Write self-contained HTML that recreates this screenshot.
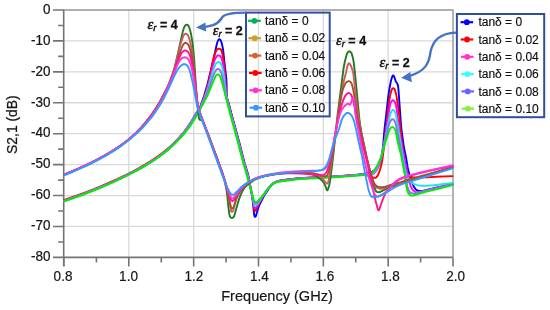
<!DOCTYPE html><html><head><meta charset="utf-8"><style>html,body{margin:0;padding:0;background:#fff;}svg{display:block;}text{font-family:"Liberation Sans",sans-serif;}</style></head><body>
<svg width="550" height="310" viewBox="0 0 550 310">
<rect x="0" y="0" width="550" height="310" fill="#fff"/>
<path d="M64.0,40.92H453.0M64.0,71.85H453.0M64.0,102.77H453.0M64.0,133.70H453.0M64.0,164.62H453.0M64.0,195.55H453.0M64.0,226.47H453.0M128.83,10.0V257.4M193.67,10.0V257.4M258.50,10.0V257.4M323.33,10.0V257.4M388.17,10.0V257.4" stroke="#d9d9d9" stroke-width="1.3" fill="none"/>
<path d="M64.0,10.0H453.0V257.4" stroke="#959595" stroke-width="1.4" fill="none"/>
<path d="M63.7,10.0V266.6M53.0,257.4H453.0M53.0,10.00H64.0M53.0,40.92H64.0M53.0,71.85H64.0M53.0,102.77H64.0M53.0,133.70H64.0M53.0,164.62H64.0M53.0,195.55H64.0M53.0,226.47H64.0M53.0,257.40H64.0M58.2,25.46H64.0M58.2,56.39H64.0M58.2,87.31H64.0M58.2,118.24H64.0M58.2,149.16H64.0M58.2,180.09H64.0M58.2,211.01H64.0M58.2,241.94H64.0M64.00,257.4V266.6M128.83,257.4V266.6M193.67,257.4V266.6M258.50,257.4V266.6M323.33,257.4V266.6M388.17,257.4V266.6M453.00,257.4V266.6M96.42,257.4V262.4M161.25,257.4V262.4M226.08,257.4V262.4M290.92,257.4V262.4M355.75,257.4V262.4M420.58,257.4V262.4" stroke="#747474" stroke-width="1.6" fill="none"/>
<text transform="translate(50.6,13.7) scale(0.97,1)" font-size="13.9" text-anchor="end" fill="#161616" stroke="#161616" stroke-width="0.25">0</text>
<text transform="translate(50.6,44.6) scale(0.97,1)" font-size="13.9" text-anchor="end" fill="#161616" stroke="#161616" stroke-width="0.25">-10</text>
<text transform="translate(50.6,75.5) scale(0.97,1)" font-size="13.9" text-anchor="end" fill="#161616" stroke="#161616" stroke-width="0.25">-20</text>
<text transform="translate(50.6,106.5) scale(0.97,1)" font-size="13.9" text-anchor="end" fill="#161616" stroke="#161616" stroke-width="0.25">-30</text>
<text transform="translate(50.6,137.4) scale(0.97,1)" font-size="13.9" text-anchor="end" fill="#161616" stroke="#161616" stroke-width="0.25">-40</text>
<text transform="translate(50.6,168.3) scale(0.97,1)" font-size="13.9" text-anchor="end" fill="#161616" stroke="#161616" stroke-width="0.25">-50</text>
<text transform="translate(50.6,199.2) scale(0.97,1)" font-size="13.9" text-anchor="end" fill="#161616" stroke="#161616" stroke-width="0.25">-60</text>
<text transform="translate(50.6,230.2) scale(0.97,1)" font-size="13.9" text-anchor="end" fill="#161616" stroke="#161616" stroke-width="0.25">-70</text>
<text transform="translate(50.6,261.1) scale(0.97,1)" font-size="13.9" text-anchor="end" fill="#161616" stroke="#161616" stroke-width="0.25">-80</text>
<text transform="translate(63.0,281.4) scale(0.96,1)" font-size="14.1" text-anchor="middle" fill="#161616" stroke="#161616" stroke-width="0.2">0.8</text>
<text transform="translate(128.5,281.4) scale(0.96,1)" font-size="14.1" text-anchor="middle" fill="#161616" stroke="#161616" stroke-width="0.2">1.0</text>
<text transform="translate(193.9,281.4) scale(0.96,1)" font-size="14.1" text-anchor="middle" fill="#161616" stroke="#161616" stroke-width="0.2">1.2</text>
<text transform="translate(259.4,281.4) scale(0.96,1)" font-size="14.1" text-anchor="middle" fill="#161616" stroke="#161616" stroke-width="0.2">1.4</text>
<text transform="translate(324.8,281.4) scale(0.96,1)" font-size="14.1" text-anchor="middle" fill="#161616" stroke="#161616" stroke-width="0.2">1.6</text>
<text transform="translate(390.3,281.4) scale(0.96,1)" font-size="14.1" text-anchor="middle" fill="#161616" stroke="#161616" stroke-width="0.2">1.8</text>
<text transform="translate(455.7,281.4) scale(0.96,1)" font-size="14.1" text-anchor="middle" fill="#161616" stroke="#161616" stroke-width="0.2">2.0</text>
<text x="277" y="301.3" font-size="14.55" text-anchor="middle" fill="#161616" stroke="#161616" stroke-width="0.2">Frequency (GHz)</text>
<text transform="translate(16.9,124.6) rotate(-90)" font-size="13.9" text-anchor="middle" fill="#161616" stroke="#161616" stroke-width="0.25">S2,1 (dB)</text>
<path d="M64.3,200.9 74.4,197.4 84.2,193.8 93.5,190.2 102.2,186.6 110.3,183.2 117.9,179.7 127.6,175.0 134.4,171.5 141.1,167.8 147.3,164.2 153.2,160.4 158.6,156.7 163.1,153.3 167.0,150.2 171.4,146.2 175.7,141.9 179.0,138.2 182.2,134.6 185.1,130.8 188.0,126.7 191.5,121.4 196.0,113.6 198.8,109.2 200.5,105.8 202.1,101.7 204.2,95.5 207.4,84.5 213.3,60.8 216.1,47.3 217.2,42.7 217.7,41.3 218.3,40.1 218.7,39.5 219.3,39.3 219.9,39.4 220.4,40.0 221.0,41.0 221.4,42.1 222.5,46.4 223.3,51.5 224.4,61.8 226.3,78.3 226.6,83.9 226.7,94.7 227.2,98.7 227.5,100.0 228.7,103.2 231.5,114.1 239.6,143.6 244.6,163.3 247.4,172.1 248.3,175.4 251.6,193.1 252.9,202.6 254.2,215.1 254.5,216.2 254.9,216.8 255.2,216.9 255.5,216.8 255.9,216.1 257.6,210.0 258.6,207.0 259.5,204.8 263.8,196.4 265.4,193.6 268.8,188.6 271.1,185.6 273.9,183.1 275.1,182.3 276.1,181.8 279.0,181.0 283.5,180.1 299.2,178.3 306.2,177.9 333.4,176.6 353.1,175.2 357.9,174.8 367.4,173.1 370.5,172.4 372.2,171.7 373.8,170.9 375.1,170.0 376.1,169.1 377.9,166.9 379.2,164.3 380.8,160.2 381.8,156.3 383.1,145.6 384.6,128.0 385.8,118.3 388.4,95.1 389.5,88.2 391.0,80.5 392.3,76.5 392.7,75.7 393.2,75.4 393.7,75.7 394.2,76.6 395.6,81.0 396.2,82.0 397.5,84.0 398.1,86.1 398.5,90.1 401.0,125.0 401.7,131.3 403.6,145.2 404.3,149.1 406.0,157.2 407.7,167.6 408.5,170.9 409.5,174.6 411.7,181.6 412.8,184.5 413.9,186.8 415.4,188.9 416.4,189.9 417.2,190.4 418.1,190.8 419.1,190.9 421.7,190.9 424.7,190.5 429.9,189.1 438.3,187.2 452.6,184.2" stroke="#0000ff" stroke-width="1.9" fill="none" stroke-linejoin="round" stroke-linecap="round"/>
<path d="M64.3,200.0 83.6,193.1 92.6,189.7 101.3,186.1 109.2,182.7 116.6,179.4 126.7,174.5 132.6,171.5 139.0,168.1 145.0,164.6 150.8,161.1 156.1,157.5 161.3,153.8 165.8,150.3 170.0,146.7 174.1,142.9 177.5,139.4 180.5,136.0 183.5,132.5 186.3,128.9 188.8,125.3 191.3,121.6 195.9,113.6 199.0,109.7 200.4,107.3 201.7,104.2 204.3,97.0 205.7,92.9 206.9,88.6 209.0,79.9 212.6,61.8 214.3,55.3 215.3,52.6 216.6,50.1 217.0,49.5 217.6,49.0 218.9,48.6 219.6,48.7 220.3,49.0 220.8,49.5 221.3,50.4 222.4,53.8 223.2,58.1 224.0,63.5 224.8,71.8 225.5,80.6 226.3,93.4 226.9,97.7 228.3,102.7 231.4,114.7 238.8,141.9 244.2,162.9 247.9,175.3 252.2,195.5 253.7,204.1 254.4,209.9 254.5,210.6 254.8,211.0 255.2,210.9 255.7,210.2 260.2,201.6 263.9,195.0 266.2,191.5 268.8,188.0 271.0,185.4 273.3,183.2 275.4,181.9 277.6,181.1 280.5,180.4 284.9,179.7 299.6,178.1 306.6,177.7 333.5,176.4 347.7,175.4 356.7,174.6 364.6,174.7 366.0,175.0 367.7,175.5 371.5,177.4 372.4,177.7 375.2,177.8 375.9,177.6 376.5,177.2 377.0,176.7 377.7,175.6 379.0,172.7 381.0,166.3 382.1,161.4 383.0,155.4 385.1,135.6 386.7,123.1 388.1,109.1 389.3,100.0 390.1,95.5 391.1,91.4 392.0,89.2 392.5,88.6 393.0,88.3 393.5,88.3 394.1,88.6 394.6,89.2 395.0,90.1 396.1,94.2 396.9,98.7 398.6,110.8 401.8,140.4 404.5,160.2 405.4,165.7 406.2,169.8 407.2,173.3 408.0,175.1 408.5,175.7 409.3,176.4 410.7,177.0 412.9,177.3 417.5,177.6 426.3,177.4 436.2,176.8 452.5,176.1" stroke="#ff0000" stroke-width="1.9" fill="none" stroke-linejoin="round" stroke-linecap="round"/>
<path d="M64.3,200.9 83.0,194.2 100.2,187.5 115.2,180.9 130.7,173.4 136.9,170.2 142.8,166.8 148.4,163.4 153.8,160.0 158.9,156.4 163.6,153.0 167.0,150.2 171.1,146.4 174.8,142.8 178.4,139.0 181.8,135.1 185.0,131.0 187.9,126.9 190.7,122.7 193.0,119.0 195.9,113.7 199.0,109.8 200.1,107.9 201.4,105.0 204.3,97.8 206.8,90.6 209.4,80.9 213.0,65.4 214.4,60.8 215.3,58.5 216.3,56.9 217.4,55.7 217.9,55.5 218.5,55.4 219.0,55.4 219.7,55.7 220.3,56.2 220.8,56.8 221.6,58.4 222.5,61.5 223.3,66.0 224.0,71.1 224.6,76.7 225.4,86.5 225.8,90.3 226.7,96.0 228.1,102.6 230.9,113.7 239.2,144.2 243.9,162.6 247.8,175.4 252.2,195.5 253.6,203.2 254.3,207.3 254.5,208.0 254.8,208.5 255.2,208.4 255.6,208.2 257.0,206.3 260.6,200.0 264.0,194.6 266.9,190.3 269.7,186.6 271.3,184.9 273.2,183.4 275.1,182.3 277.1,181.5 280.2,180.8 284.4,180.1 298.9,178.4 305.7,178.0 336.2,176.5 354.8,175.2 363.7,174.3 370.3,174.3 372.7,173.9 374.1,173.1 375.0,172.1 376.3,170.6 378.1,167.5 379.9,163.0 381.6,157.5 382.7,152.4 384.1,144.3 388.1,116.8 389.8,106.1 390.3,104.0 391.1,102.0 392.0,100.7 392.7,100.2 393.5,100.4 394.4,101.4 395.5,103.3 396.0,105.0 396.7,109.5 398.3,122.6 399.6,132.3 401.1,141.6 406.9,170.9 408.9,179.8 410.5,185.8 411.4,187.8 412.3,189.4 413.6,190.8 415.3,191.9 416.8,192.3 419.0,192.2 438.8,187.2 452.5,184.1" stroke="#ff00ff" stroke-width="1.9" fill="none" stroke-linejoin="round" stroke-linecap="round"/>
<path d="M64.3,200.9 82.5,194.4 99.0,187.9 113.9,181.5 128.7,174.4 134.7,171.3 140.5,168.1 146.1,164.9 151.1,161.7 156.3,158.3 161.3,154.7 165.3,151.6 168.8,148.6 172.8,144.8 176.8,140.8 180.5,136.6 183.9,132.4 187.1,128.1 190.1,123.6 192.8,119.3 195.9,113.7 198.9,110.0 200.0,108.4 201.3,105.7 204.2,98.9 206.7,92.5 208.1,88.0 213.0,70.8 214.8,65.9 215.5,64.3 216.3,63.2 217.4,62.3 218.5,62.0 219.0,62.0 219.7,62.4 220.8,63.5 221.5,65.1 222.4,68.1 223.3,72.5 224.1,77.2 225.4,90.9 226.1,94.7 226.8,98.2 230.1,111.4 238.3,141.3 243.6,162.2 247.6,175.4 251.8,193.7 254.1,204.5 254.4,205.4 254.8,205.8 255.3,205.8 255.9,205.5 256.7,204.7 257.7,203.7 265.7,191.8 267.9,188.9 270.5,185.8 271.9,184.4 273.9,183.1 275.7,182.2 277.6,181.5 280.5,180.9 284.6,180.2 298.7,178.6 306.3,178.1 331.7,176.9 349.8,175.7 357.6,175.0 363.8,174.4 369.6,174.2 371.3,173.8 372.9,173.0 373.8,172.2 374.8,171.2 375.9,169.6 376.9,168.0 379.0,163.5 380.8,158.6 381.9,154.6 383.1,149.1 387.6,126.1 389.8,116.0 390.5,113.5 391.4,111.5 392.1,110.3 392.8,109.9 393.6,110.1 394.6,111.0 395.2,112.5 395.9,114.6 396.7,119.1 403.9,162.9 405.1,169.6 406.0,173.1 407.1,176.1 408.2,178.4 409.7,180.6 410.7,181.8 411.9,182.8 413.1,183.7 414.1,184.2 417.2,185.1 419.5,185.5 421.3,185.7 425.5,185.8 433.7,185.2 452.7,183.0" stroke="#1ee6e6" stroke-width="1.9" fill="none" stroke-linejoin="round" stroke-linecap="round"/>
<path d="M64.3,200.9 82.1,194.6 98.3,188.2 112.8,182.0 127.1,175.2 138.6,169.2 143.8,166.2 149.0,163.1 153.8,160.0 158.6,156.7 162.9,153.5 166.7,150.4 171.1,146.4 175.2,142.4 179.2,138.1 182.9,133.7 186.4,129.0 189.7,124.3 192.7,119.5 195.9,113.8 198.9,110.3 199.8,109.0 201.6,105.6 206.7,94.1 213.2,76.0 214.5,72.9 215.4,71.1 216.2,70.0 217.1,69.2 217.9,68.9 218.5,69.0 219.1,69.3 219.7,69.8 220.2,70.5 221.2,72.8 222.1,75.7 223.4,81.8 224.7,91.3 225.5,95.4 227.6,102.3 230.6,113.9 237.5,139.4 243.7,163.0 247.3,175.1 249.2,183.0 253.9,201.8 254.3,202.9 254.7,203.4 255.4,203.5 256.2,203.3 257.2,202.6 258.2,201.7 261.3,197.7 266.3,190.7 269.4,186.8 270.9,185.2 272.5,184.0 274.4,182.8 276.0,182.1 278.1,181.5 281.0,180.9 285.0,180.2 298.7,178.7 306.3,178.2 331.9,177.0 351.8,175.6 358.0,175.1 364.3,174.4 368.9,174.0 370.1,173.8 371.3,173.2 372.5,172.4 373.5,171.4 375.9,168.2 377.8,164.9 379.6,160.7 380.8,157.5 381.6,154.6 386.5,134.0 388.8,125.3 389.7,122.8 390.5,121.0 391.4,119.7 391.8,119.4 392.3,119.2 392.8,119.2 393.4,119.5 394.5,120.7 395.2,122.3 396.0,124.8 401.5,153.3 405.3,176.5 406.2,181.7 407.1,185.5 408.1,188.8 409.0,190.8 410.0,192.3 410.9,193.0 411.8,193.3 413.2,193.5 414.6,193.3 438.4,187.8 452.6,184.3" stroke="#8a70f0" stroke-width="1.9" fill="none" stroke-linejoin="round" stroke-linecap="round"/>
<path d="M64.3,201.3 82.1,195.0 98.5,188.6 113.2,182.2 127.4,175.5 139.0,169.4 144.2,166.4 149.3,163.3 154.2,160.2 158.8,157.0 163.1,153.7 167.3,150.4 171.0,147.3 174.5,144.0 177.9,140.6 181.1,137.3 184.1,133.8 187.0,130.2 189.7,126.6 192.3,122.8 195.3,118.0 198.3,112.8 207.3,95.9 213.1,81.8 215.5,76.3 216.0,75.5 216.6,74.9 217.2,74.5 217.7,74.4 218.3,74.5 218.8,74.7 219.2,75.0 219.7,75.6 220.4,77.1 221.4,80.1 225.5,95.4 230.2,114.2 237.6,141.0 243.3,163.3 246.7,174.4 249.1,183.6 253.7,199.6 254.3,201.0 254.9,201.6 255.8,201.8 256.8,201.6 257.5,201.3 258.2,200.7 261.7,196.8 267.2,190.0 270.0,186.8 271.6,185.3 273.4,184.0 274.9,183.1 276.6,182.4 278.7,181.8 281.8,181.2 285.6,180.7 299.5,179.1 338.0,177.1 368.0,174.9 369.3,174.7 370.2,174.3 371.2,173.7 372.4,172.6 374.6,170.0 376.9,166.5 379.2,162.0 380.3,159.5 381.2,156.8 383.8,147.6 387.7,135.0 389.0,131.2 389.7,129.5 390.4,128.4 391.4,127.4 392.2,127.0 392.8,127.1 393.3,127.3 394.4,128.4 395.2,129.9 395.9,132.0 397.6,141.5 400.8,154.1 401.6,157.8 402.9,164.9 404.5,172.9 406.2,185.2 406.7,188.1 407.3,190.5 407.8,192.0 408.6,193.6 409.5,194.7 410.3,195.2 411.2,195.5 412.4,195.6 413.3,195.5 425.6,191.9 440.0,188.4 452.7,185.1" stroke="#00ee00" stroke-width="1.9" fill="none" stroke-linejoin="round" stroke-linecap="round"/>
<path d="M64.3,174.6 78.4,168.7 85.1,165.7 91.5,162.6 97.5,159.5 103.3,156.4 108.8,153.2 114.1,149.9 118.8,146.8 123.2,143.7 127.2,140.7 130.4,138.0 134.6,134.3 138.3,130.6 142.0,126.7 145.4,122.7 148.9,118.2 152.4,113.5 155.4,109.0 158.2,104.6 161.2,99.4 165.3,91.4 167.2,87.7 169.1,83.3 172.5,74.3 174.7,67.2 176.8,58.5 182.2,34.1 183.1,30.4 184.0,27.7 184.8,26.1 185.6,25.1 186.1,24.8 186.6,24.6 187.4,24.9 188.3,25.6 188.9,26.7 189.6,28.5 190.3,31.0 191.0,33.9 192.4,42.2 193.3,50.4 194.2,59.9 196.0,88.1 196.8,98.8 197.9,110.0 199.0,118.3 199.3,119.0 199.7,119.6 200.1,119.8 201.3,120.1 202.1,120.6 202.9,121.7 203.8,123.5 208.9,136.1 218.4,161.8 222.7,173.7 224.7,181.2 226.4,189.4 227.2,195.0 228.6,208.7 229.3,214.2 230.0,216.5 230.4,217.2 230.9,217.7 231.8,217.9 232.7,217.8 233.4,217.2 234.1,216.2 234.7,214.3 238.1,202.2 239.8,197.1 240.9,194.3 242.0,191.9 243.2,189.8 244.4,188.0 245.7,186.5 247.2,185.1 253.8,180.3 255.3,179.4 257.0,178.6 261.5,177.0 266.9,175.7 273.2,174.6 279.2,173.7 285.9,173.1 290.5,172.9 301.7,172.9 306.3,173.2 309.5,173.5 312.6,174.4 315.2,175.5 318.0,177.3 321.5,180.0 323.0,181.6 324.1,183.2 325.5,186.3 326.8,190.0 327.2,190.3 327.4,190.3 327.7,190.0 328.4,188.2 329.2,185.3 330.0,181.4 330.6,177.2 332.9,158.6 336.0,129.3 337.8,113.0 343.6,68.2 344.9,61.3 346.6,54.9 347.1,53.6 347.7,52.6 348.5,51.7 349.1,51.4 349.8,51.4 350.4,51.8 351.2,52.6 351.7,53.7 352.9,57.7 353.7,62.4 354.9,72.4 359.3,118.4 360.3,126.3 361.2,132.2 367.9,162.9 370.9,176.0 373.5,184.8 375.3,189.7 376.1,191.2 376.9,191.8 377.8,192.1 379.0,192.2 380.1,192.0 383.7,190.2 387.3,188.5 390.6,187.2 394.6,185.8 400.7,183.9 407.3,181.5 411.9,180.1 435.0,173.0 452.5,167.8" stroke="#1e7b1e" stroke-width="1.9" fill="none" stroke-linejoin="round" stroke-linecap="round"/>
<path d="M64.3,174.6 77.9,169.0 90.4,163.2 101.9,157.2 107.3,154.1 112.4,151.0 121.3,145.1 125.9,141.7 129.1,139.2 133.1,135.7 136.8,132.2 140.3,128.6 143.6,124.9 146.8,121.1 150.3,116.5 153.8,111.6 156.7,107.2 161.3,99.3 165.6,91.1 167.6,87.0 170.8,79.5 173.1,72.9 175.6,64.0 179.8,46.7 181.9,39.6 183.1,36.6 183.8,35.2 184.7,34.2 185.2,33.9 185.7,33.8 186.6,34.0 187.3,34.6 187.9,35.4 188.6,36.8 189.4,39.1 190.0,41.2 191.5,48.2 192.5,54.9 193.3,61.5 196.7,97.5 197.7,104.7 199.1,110.7 200.7,116.1 204.3,125.4 207.6,133.5 210.3,140.4 221.2,170.1 223.7,177.3 225.3,182.4 226.5,187.5 227.8,193.4 230.4,207.9 231.1,211.0 231.3,211.5 231.6,211.9 232.0,211.9 232.4,211.7 232.9,211.2 233.2,210.5 235.9,200.5 236.7,198.0 237.5,195.9 239.3,192.4 241.4,189.5 243.4,187.3 245.6,185.2 247.4,183.6 249.4,182.3 252.0,180.8 254.8,179.3 258.0,178.0 261.0,177.0 266.4,175.7 273.5,174.4 279.3,173.6 286.3,173.0 290.4,172.8 301.4,172.8 311.4,173.5 313.6,173.7 315.3,174.2 317.4,174.9 319.2,175.9 320.8,177.0 322.4,178.5 326.5,183.4 327.2,183.6 327.6,183.3 328.1,182.3 328.7,180.4 329.5,176.2 332.2,158.0 339.2,106.7 341.8,90.7 343.4,82.7 346.2,71.8 347.3,66.6 348.2,64.1 348.5,63.5 348.9,63.3 349.3,63.4 349.8,63.8 350.9,65.7 352.4,69.8 353.3,73.3 354.0,79.1 356.9,105.5 358.5,116.6 361.0,131.0 366.0,154.7 369.2,167.7 373.0,180.7 373.7,182.8 374.5,184.4 375.6,186.3 376.5,187.4 377.8,188.2 379.7,188.7 381.7,188.7 384.5,188.2 386.0,187.7 390.4,185.8 400.4,183.0 409.9,179.7 452.6,167.4" stroke="#cd5c5c" stroke-width="1.9" fill="none" stroke-linejoin="round" stroke-linecap="round"/>
<path d="M64.3,174.6 77.1,169.3 89.1,163.8 100.2,158.1 110.4,152.2 119.5,146.4 123.9,143.2 127.8,140.2 131.1,137.5 134.8,134.2 138.1,131.0 141.2,127.6 144.7,123.7 148.2,119.4 151.7,114.7 155.1,109.8 157.6,105.9 160.0,101.8 166.6,89.5 170.1,82.3 173.0,75.0 175.7,66.9 179.5,54.0 182.2,46.5 183.0,44.9 183.9,43.8 184.8,43.0 185.6,42.8 186.5,43.1 187.5,43.7 188.2,44.7 188.9,45.9 190.4,50.2 191.9,56.9 193.1,63.7 194.2,71.5 197.1,99.9 198.0,105.2 198.9,109.1 201.0,115.6 217.0,158.3 221.8,171.3 223.9,177.5 225.3,181.9 226.4,186.1 230.4,204.7 231.2,207.6 231.5,208.0 231.9,208.3 232.3,208.4 232.7,208.2 233.1,207.8 233.5,207.2 235.0,202.8 236.6,198.3 237.7,195.9 238.8,193.6 240.9,190.4 243.4,187.3 246.6,184.0 249.6,181.9 253.8,179.7 259.5,177.4 262.2,176.5 265.9,175.7 275.2,174.1 281.5,173.3 290.5,172.7 301.9,172.6 311.7,173.1 313.9,173.4 315.6,173.7 320.1,175.0 324.2,176.3 325.8,176.3 326.5,176.1 326.9,175.7 327.4,175.1 327.8,174.0 329.3,169.2 330.7,162.6 333.2,149.6 334.2,143.5 338.3,116.2 340.2,102.5 341.9,93.1 343.3,88.1 344.8,84.6 345.6,83.2 346.3,82.3 347.3,81.6 348.2,81.3 348.8,81.2 349.5,81.4 350.2,81.7 350.8,82.3 351.6,83.6 352.5,86.5 353.2,89.6 354.2,95.5 356.4,111.5 357.2,116.5 358.3,121.4 360.8,130.6 366.7,158.4 370.0,171.0 373.0,180.5 373.6,182.2 374.2,183.5 375.2,184.7 376.1,185.7 377.7,186.6 379.8,187.1 382.4,187.1 385.2,186.8 392.0,184.5 401.1,182.2 407.3,180.0 411.0,178.9 435.5,172.2 452.6,167.2" stroke="#a0522d" stroke-width="1.9" fill="none" stroke-linejoin="round" stroke-linecap="round"/>
<path d="M64.3,174.6 76.8,169.4 88.4,164.1 99.1,158.7 109.0,153.1 118.3,147.2 126.7,141.1 130.0,138.5 133.6,135.3 140.0,129.2 145.4,123.3 151.0,116.3 155.9,109.2 160.4,101.9 165.0,93.2 169.5,83.4 172.6,75.6 177.9,60.7 180.1,55.8 181.3,53.5 182.4,52.1 183.7,50.9 184.4,50.5 184.9,50.4 185.9,50.6 186.9,51.1 187.7,51.7 188.5,52.6 189.3,54.2 190.1,56.0 191.4,60.9 192.5,66.1 193.7,73.4 196.2,94.5 197.2,102.0 197.9,105.8 198.9,109.4 200.4,114.0 204.2,124.5 213.4,149.0 222.0,172.5 225.0,181.4 228.4,192.5 230.2,197.6 231.1,199.8 231.6,200.4 232.1,200.9 232.4,201.0 232.9,200.9 233.9,200.0 234.7,198.9 237.5,193.8 239.5,190.9 242.2,187.7 246.0,184.1 248.9,182.0 252.5,179.9 256.8,178.0 260.9,176.6 265.4,175.5 269.9,174.6 276.2,173.7 280.4,173.3 291.8,173.2 300.4,173.5 305.2,173.8 319.9,175.3 321.9,175.2 323.3,175.0 324.3,174.5 325.3,173.7 326.4,172.3 327.4,170.2 328.2,167.9 329.1,164.2 333.1,145.5 335.9,130.1 337.3,122.8 339.6,112.5 341.0,106.9 342.9,101.0 344.9,96.4 345.7,95.2 346.6,94.1 347.5,93.4 348.3,93.0 349.0,93.1 349.7,93.4 350.5,94.0 351.1,94.8 352.1,97.0 353.2,100.6 354.4,106.1 357.0,120.4 359.3,131.2 362.3,143.4 366.6,159.8 373.1,189.8 375.7,201.3 377.7,208.8 378.0,209.7 378.4,210.2 378.6,210.3 378.9,210.2 379.3,209.5 380.6,205.5 382.9,199.1 384.7,194.9 386.0,192.4 387.0,191.2 393.6,183.6 395.4,182.1 397.9,180.4 400.5,179.0 403.7,177.7 409.4,175.9 415.0,174.3 430.3,170.6 452.7,165.8" stroke="#ff1493" stroke-width="1.9" fill="none" stroke-linejoin="round" stroke-linecap="round"/>
<path d="M64.3,174.6 76.2,169.7 87.3,164.6 97.7,159.4 107.3,154.1 116.3,148.5 124.5,142.8 131.5,137.2 138.2,131.1 143.5,125.7 148.3,120.0 153.1,113.7 157.5,107.2 161.6,100.3 164.5,94.7 172.3,77.3 176.2,67.5 178.6,62.4 180.0,60.2 181.6,58.5 183.2,57.6 184.7,57.3 185.7,57.4 186.8,57.9 187.5,58.5 188.3,59.4 189.1,60.8 189.9,62.6 191.3,66.8 192.4,71.5 193.8,79.5 194.9,86.5 196.1,96.4 197.1,102.3 198.2,107.4 200.0,113.1 204.4,125.3 219.0,164.9 224.9,181.1 228.0,190.6 230.6,196.5 231.4,197.8 232.1,198.4 232.9,198.4 233.9,197.6 238.4,191.8 241.1,188.5 243.7,185.8 246.4,183.5 249.1,181.7 252.4,179.8 256.1,178.2 259.8,176.9 264.3,175.6 269.1,174.5 274.1,173.6 279.8,172.8 287.5,171.9 293.3,171.5 319.7,170.4 321.3,170.2 322.6,169.9 323.9,169.3 325.1,168.5 326.3,167.2 327.4,165.6 328.4,163.2 329.3,160.5 333.2,144.8 336.2,129.5 337.9,121.5 339.3,116.1 340.3,113.0 341.3,110.8 342.5,108.8 344.4,106.2 346.0,104.7 347.1,103.9 348.0,103.6 348.6,103.8 349.7,104.7 350.0,104.7 350.3,104.6 350.8,103.4 352.3,98.9 352.6,98.2 353.1,97.9 353.4,97.9 353.7,98.3 354.1,99.9 354.7,104.9 355.4,114.1 356.5,120.8 358.0,128.2 361.6,147.3 366.0,167.6 368.0,175.2 372.6,189.2 374.7,194.2 375.5,195.4 376.3,196.2 377.4,196.6 378.5,196.5 380.5,195.6 382.7,194.2 386.7,191.2 388.9,189.3 390.4,187.6 393.6,183.5 395.5,181.7 398.7,179.3 401.7,177.9 404.5,176.9 410.3,175.1 420.6,172.5 436.2,168.9 452.7,165.5" stroke="#ff33dd" stroke-width="1.9" fill="none" stroke-linejoin="round" stroke-linecap="round"/>
<path d="M64.3,175.3 75.8,170.5 86.8,165.6 96.8,160.6 106.3,155.4 115.0,150.1 122.9,144.6 130.3,138.9 137.1,133.0 142.3,128.0 147.1,122.7 151.7,117.1 155.9,111.3 160.4,104.2 164.6,96.7 168.5,88.8 174.1,76.4 177.2,70.3 179.0,67.7 180.8,65.8 182.6,64.6 183.5,64.2 184.3,64.1 185.0,64.2 185.8,64.5 186.6,65.0 187.5,65.8 188.3,67.2 189.4,69.7 190.7,74.0 192.7,82.9 194.4,91.1 195.8,99.2 196.7,103.9 197.7,107.8 198.9,111.6 212.1,147.2 222.3,175.2 225.2,182.7 227.0,187.1 229.6,192.2 230.7,193.8 231.7,194.6 232.4,194.8 233.2,194.7 233.9,194.4 234.5,194.0 241.8,186.8 244.6,184.6 247.2,182.8 250.1,181.3 253.5,179.7 258.2,177.9 261.8,176.8 266.9,175.5 272.5,174.5 278.7,173.5 286.2,172.6 293.0,172.1 313.4,171.1 317.8,170.8 321.1,170.1 322.4,169.6 323.6,168.9 324.9,167.7 326.2,166.0 327.2,164.2 328.3,161.4 329.4,158.2 332.2,148.2 333.5,144.0 335.7,137.4 339.1,129.0 341.0,122.1 341.9,119.4 343.2,116.9 344.4,115.1 346.1,113.4 346.7,113.0 347.5,112.8 348.4,112.9 349.2,113.3 350.3,114.2 351.3,115.2 352.1,116.4 352.8,117.8 354.2,121.5 355.9,128.5 358.7,142.0 361.9,155.9 365.1,173.8 368.1,187.9 369.1,191.7 370.1,194.4 371.0,195.9 372.2,196.9 373.3,197.3 374.4,197.3 376.6,196.9 378.3,196.4 382.8,194.3 386.9,192.2 393.7,188.0 396.0,186.7 398.9,185.4 401.9,184.2 429.3,175.5 452.5,168.3" stroke="#3399ff" stroke-width="1.9" fill="none" stroke-linejoin="round" stroke-linecap="round"/>
<rect x="246.0" y="12.6" width="83.7" height="103.8" fill="none" stroke="#2e4e9e" stroke-width="2"/><path d="M248.1,20.8H260.7" stroke="#00b050" stroke-width="2.2"/><circle cx="254.4" cy="20.8" r="2.9" fill="#00b050"/><text x="264.9" y="24.9" font-size="12" fill="#0d0d0d" stroke="#0d0d0d" stroke-width="0.15">tan&#948; = 0</text><path d="M248.4,38.2H261.0" stroke="#c9a227" stroke-width="2.2"/><circle cx="254.7" cy="38.2" r="2.9" fill="#c9a227"/><text x="264.9" y="42.3" font-size="12" fill="#0d0d0d" stroke="#0d0d0d" stroke-width="0.15">tan&#948; = 0.02</text><path d="M248.7,55.6H261.3" stroke="#d0652a" stroke-width="2.2"/><circle cx="255.0" cy="55.6" r="2.9" fill="#d0652a"/><text x="264.9" y="59.7" font-size="12" fill="#0d0d0d" stroke="#0d0d0d" stroke-width="0.15">tan&#948; = 0.04</text><path d="M249.0,72.9H261.6" stroke="#ff0000" stroke-width="2.2"/><circle cx="255.3" cy="72.9" r="2.9" fill="#ff0000"/><text x="264.9" y="77.0" font-size="12" fill="#0d0d0d" stroke="#0d0d0d" stroke-width="0.15">tan&#948; = 0.06</text><path d="M249.3,90.3H261.9" stroke="#ff33cc" stroke-width="2.2"/><circle cx="255.6" cy="90.3" r="2.9" fill="#ff33cc"/><text x="264.9" y="94.4" font-size="12" fill="#0d0d0d" stroke="#0d0d0d" stroke-width="0.15">tan&#948; = 0.08</text><path d="M249.6,107.7H262.2" stroke="#3399ff" stroke-width="2.2"/><circle cx="255.9" cy="107.7" r="2.9" fill="#3399ff"/><text x="264.9" y="111.8" font-size="12" fill="#0d0d0d" stroke="#0d0d0d" stroke-width="0.15">tan&#948; = 0.10</text>
<rect x="456.9" y="14.0" width="87.3" height="103.2" fill="none" stroke="#2e4e9e" stroke-width="2"/><path d="M460.5,22.2H473.1" stroke="#0000ff" stroke-width="2.2"/><circle cx="466.8" cy="22.2" r="2.9" fill="#0000ff"/><text x="478.4" y="26.3" font-size="12" fill="#0d0d0d" stroke="#0d0d0d" stroke-width="0.15">tan&#948; = 0</text><path d="M460.7,39.5H473.3" stroke="#ff0000" stroke-width="2.2"/><circle cx="467.0" cy="39.5" r="2.9" fill="#ff0000"/><text x="478.4" y="43.6" font-size="12" fill="#0d0d0d" stroke="#0d0d0d" stroke-width="0.15">tan&#948; = 0.02</text><path d="M460.9,56.8H473.5" stroke="#ff33cc" stroke-width="2.2"/><circle cx="467.2" cy="56.8" r="2.9" fill="#ff33cc"/><text x="478.4" y="60.9" font-size="12" fill="#0d0d0d" stroke="#0d0d0d" stroke-width="0.15">tan&#948; = 0.04</text><path d="M461.2,74.1H473.8" stroke="#33ffff" stroke-width="2.2"/><circle cx="467.5" cy="74.1" r="2.9" fill="#33ffff"/><text x="478.4" y="78.2" font-size="12" fill="#0d0d0d" stroke="#0d0d0d" stroke-width="0.15">tan&#948; = 0.06</text><path d="M461.4,91.4H474.0" stroke="#6666ff" stroke-width="2.2"/><circle cx="467.7" cy="91.4" r="2.9" fill="#6666ff"/><text x="478.4" y="95.5" font-size="12" fill="#0d0d0d" stroke="#0d0d0d" stroke-width="0.15">tan&#948; = 0.08</text><path d="M461.6,108.7H474.2" stroke="#88ee44" stroke-width="2.2"/><circle cx="467.9" cy="108.7" r="2.9" fill="#88ee44"/><text x="478.4" y="112.8" font-size="12" fill="#0d0d0d" stroke="#0d0d0d" stroke-width="0.15">tan&#948; = 0.10</text>
<text x="147.6" y="28.6" font-size="12.5" font-weight="bold" fill="#111" stroke="#111" stroke-width="0.3"><tspan font-family="Liberation Serif,serif" font-style="italic" font-weight="normal" font-size="14.5" stroke-width="0.5">&#949;</tspan><tspan font-style="italic" font-weight="normal" font-size="9.5" dy="2" stroke-width="0.4">r</tspan><tspan dy="-2"> = 4</tspan></text>
<text x="212.7" y="34.8" font-size="12.5" font-weight="bold" fill="#111" stroke="#111" stroke-width="0.3"><tspan font-family="Liberation Serif,serif" font-style="italic" font-weight="normal" font-size="14.5" stroke-width="0.5">&#949;</tspan><tspan font-style="italic" font-weight="normal" font-size="9.5" dy="2" stroke-width="0.4">r</tspan><tspan dy="-2"> = 2</tspan></text>
<text x="336.0" y="44.8" font-size="12.5" font-weight="bold" fill="#111" stroke="#111" stroke-width="0.3"><tspan font-family="Liberation Serif,serif" font-style="italic" font-weight="normal" font-size="14.5" stroke-width="0.5">&#949;</tspan><tspan font-style="italic" font-weight="normal" font-size="9.5" dy="2" stroke-width="0.4">r</tspan><tspan dy="-2"> = 4</tspan></text>
<text x="379.6" y="67.2" font-size="12.5" font-weight="bold" fill="#111" stroke="#111" stroke-width="0.3"><tspan font-family="Liberation Serif,serif" font-style="italic" font-weight="normal" font-size="14.5" stroke-width="0.5">&#949;</tspan><tspan font-style="italic" font-weight="normal" font-size="9.5" dy="2" stroke-width="0.4">r</tspan><tspan dy="-2"> = 2</tspan></text>
<path d="M246,12.6 C236,12.6 226.5,13.2 222.8,16.6 C220.3,19.6 220,22.6 213,25.1 L204.5,27.1" stroke="#4472c4" stroke-width="2.4" fill="none"/>
<path d="M196,27.5 L205.4,22.5 L206.2,31.4 Z" fill="#4472c4"/>
<path d="M456,32.7 C440,33.5 433,40 430.5,52 C429,64 425,71 410,75.8" stroke="#4472c4" stroke-width="2.3" fill="none"/>
<path d="M401.2,77.8 L410.3,72.0 L411.9,82.3 Z" fill="#4472c4"/>
</svg></body></html>
